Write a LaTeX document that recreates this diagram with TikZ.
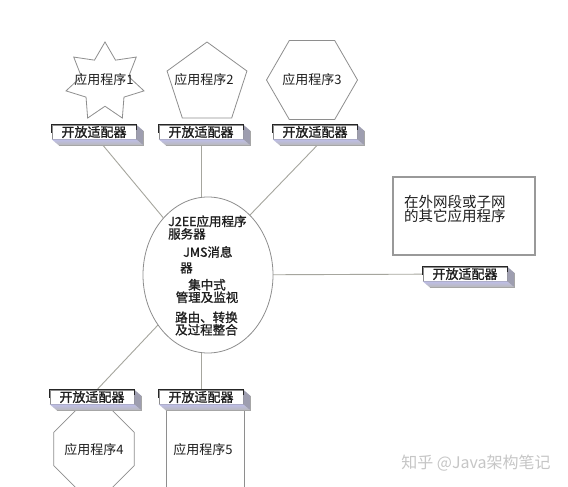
\documentclass[tikz,border=0pt]{standalone}
\usepackage{fontspec}
\setmainfont{Noto Sans CJK SC}
\newfontfamily\medfont[FakeBold=1.2]{Noto Sans CJK SC}
\usetikzlibrary{shapes.geometric}
\definecolor{shp}{HTML}{8E8E8E}
\definecolor{connc}{HTML}{A6A69E}
\definecolor{lav}{HTML}{BEBEE8}
\definecolor{sidef}{HTML}{9E9EB0}
\definecolor{wm}{HTML}{C6C6C6}
\definecolor{txt}{HTML}{1E1E1E}
\pgfdeclarelayer{bg}
\pgfdeclarelayer{lines}
\pgfsetlayers{bg,lines,main}
\begin{document}
\begin{tikzpicture}[x=1pt,y=-1pt,
  appshape/.style={draw=shp, line width=0.8pt, fill=white, inner sep=0pt},
  apptext/.style={font=\fontsize{13}{13}\selectfont, text=txt, inner sep=0pt},
  adapter/.style={draw=shp, line width=0.6pt, fill=white, minimum width=84pt, minimum height=14pt, inner sep=0pt, font=\medfont\fontsize{13}{13}\selectfont, text=txt},
  connector/.style={draw=connc, line width=0.9pt},
  hubtext/.style={font=\medfont\fontsize{12.5}{12.5}\selectfont, text=txt, inner sep=0pt}
]
\useasboundingbox (0,0) rectangle (568,487);
\clip (0,0) rectangle (568,487);
\begin{pgfonlayer}{bg}
\fill[white] (0,0) rectangle (568,487);
\end{pgfonlayer}

% central hub
\node[ellipse, appshape, minimum width=130pt, minimum height=156pt] (hub) at (208,275) {};
\node[hubtext, anchor=west, align=left] (h1) at (168,227.5) {J2EE应用程序\\服务器};
\node[hubtext, anchor=west] (h2) at (183,252) {JMS消息};
\node[hubtext, anchor=west] (h3) at (180,268) {器};
\node[hubtext, align=center] (h4) at (207,291) {集中式\\管理及监视};
\node[hubtext, anchor=west, align=left] (h5) at (175,323.5) {路由、转换\\及过程整合};

% applications
\node[star, star points=7, star point ratio=1.65, minimum size=80pt, appshape] (app1) at (105,82) {};
\node[apptext] (t1) at (104,80) {应用程序1};
\node[regular polygon, regular polygon sides=5, minimum size=84pt, appshape] (app2) at (207,84) {};
\node[apptext] (t2) at (204,80) {应用程序2};
\node[regular polygon, regular polygon sides=6, minimum size=91pt, appshape] (app3) at (312,80) {};
\node[apptext] (t3) at (312,80) {应用程序3};
\node[regular polygon, regular polygon sides=8, minimum size=87pt, appshape] (app4) at (94,449) {};
\node[apptext] (t4) at (94,450) {应用程序4};
\node[rectangle, appshape, minimum width=78pt, minimum height=84pt] (app5) at (205,450) {};
\node[apptext] (t5) at (203,450) {应用程序5};

% other application box
\node[rectangle, draw=shp!90, line width=1.1pt, fill=white, minimum width=142pt, minimum height=78pt] (other) at (464,216) {};
\node[font=\fontsize{14.5}{14}\selectfont, text=txt, align=left, anchor=west, inner sep=0pt] (othertext) at (404,208.5) {在外网段或子网\\的其它应用程序};

% adapters
\node[adapter] (ad1) at (94,132) {开放适配器};
\node[adapter] (ad2) at (201,132) {开放适配器};
\node[adapter] (ad3) at (315,132) {开放适配器};
\node[adapter] (adr) at (465,274) {开放适配器};
\node[adapter] (ad4) at (92,397) {开放适配器};
\node[adapter] (ad5) at (201,397) {开放适配器};

\foreach \a in {ad1,ad2,ad3,adr,ad4,ad5}{
  \shade[top color=lav, bottom color=gray!55] (\a.south west) -- (\a.south east) -- ([shift={(7,6)}]\a.south east) -- ([shift={(7,6)}]\a.south west) -- cycle;
  \fill[sidef] (\a.north east) -- ([shift={(7,6)}]\a.north east) -- ([shift={(7,6)}]\a.south east) -- (\a.south east) -- cycle;
  \draw[gray!70, line width=0.5pt] ([shift={(7,6)}]\a.south west) -- ([shift={(7,6)}]\a.south east) -- ([shift={(7,6)}]\a.north east);
  \draw[black!85, line width=0.9pt] ([yshift=-8pt]\a.north west) -- (\a.north west) -- (\a.north east) -- ([yshift=-5pt]\a.north east);
}

% connectors
\begin{pgfonlayer}{lines}
\draw[connector] (hub.128) -- ([xshift=4pt]ad1.south);
\draw[connector] (ad2.south) -- (ad2.south |- hub.center);
\draw[connector] (hub.55) -- ([xshift=8pt]ad3.south);
\draw[connector] (hub.center) -- (adr.center);
\draw[connector] (hub.225) -- ([xshift=5pt]ad4.north);
\draw[connector] (ad5.north) -- (ad5.north |- hub.center);
\end{pgfonlayer}

% watermark
\node[font=\fontsize{16}{16}\selectfont, text=wm, inner sep=0pt] (wmark) at (476,463) {知乎 @Java架构笔记};
\end{tikzpicture}
\end{document}
